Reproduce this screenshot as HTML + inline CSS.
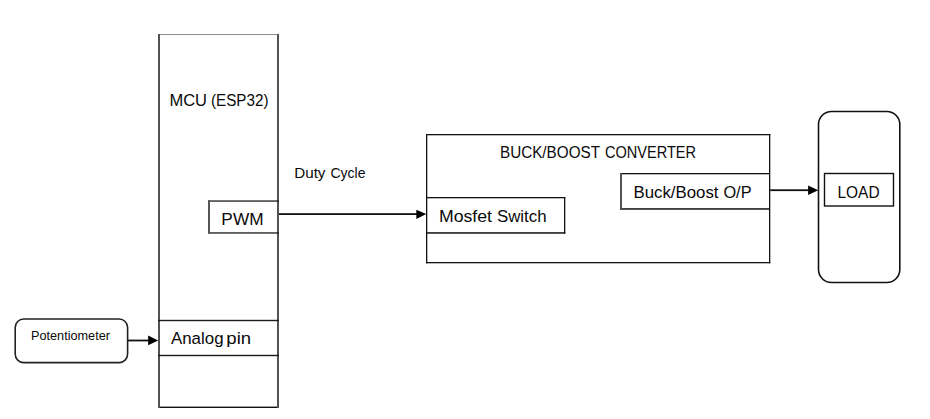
<!DOCTYPE html>
<html><head><meta charset="utf-8">
<style>
html,body{margin:0;padding:0;background:#fff;}
body{width:930px;height:419px;overflow:hidden;}
svg{display:block;}
text{font-family:"Liberation Sans",sans-serif;fill:#0a0a0a;}
</style></head>
<body>
<svg width="930" height="419" viewBox="0 0 930 419">
<g stroke="none">
  <!-- MCU -->
  <rect x="158" y="34" width="121" height="1" fill="#8e8e8e"/>
  <rect x="158" y="406.6" width="121" height="1.4" fill="#111"/>
  <rect x="158" y="34" width="2" height="374" fill="#525252"/>
  <rect x="277" y="34" width="2" height="374" fill="#525252"/>
  <!-- PWM box -->
  <rect x="208" y="200.4" width="71" height="1.3" fill="#1a1a1a"/>
  <rect x="208" y="232.3" width="71" height="1.3" fill="#1a1a1a"/>
  <rect x="208" y="200.4" width="2" height="33.2" fill="#555"/>
  <!-- analog -->
  <rect x="158" y="319.8" width="121" height="1.4" fill="#1a1a1a"/>
  <rect x="158" y="354.8" width="121" height="1.4" fill="#1a1a1a"/>
  <!-- converter -->
  <rect x="426" y="134" width="344.3" height="1.3" fill="#111"/>
  <rect x="426" y="262" width="344.3" height="1.3" fill="#111"/>
  <rect x="426" y="134" width="1.3" height="129.3" fill="#111"/>
  <rect x="769" y="134" width="1.3" height="129.3" fill="#111"/>
  <!-- mosfet -->
  <rect x="426" y="197" width="139.3" height="1.3" fill="#111"/>
  <rect x="426" y="232.2" width="139.3" height="1.5" fill="#111"/>
  <rect x="564" y="197" width="1.3" height="36.7" fill="#111"/>
  <!-- O/P -->
  <rect x="620" y="173" width="150" height="1.3" fill="#111"/>
  <rect x="620" y="208.2" width="150" height="1.5" fill="#111"/>
  <rect x="620" y="173" width="2" height="36.7" fill="#525252"/>
  <!-- arrows -->
  <rect x="279" y="213.2" width="138" height="1.8" fill="#111"/>
  <rect x="770.2" y="189.3" width="39" height="1.8" fill="#111"/>
  <rect x="127.6" y="339.6" width="21.5" height="1.8" fill="#111"/>
  <path d="M416.3,209.7 L426.3,214.1 L416.3,218.9 Z" fill="#000"/>
  <path d="M808.1,185.5 L818.2,190.2 L808.1,195 Z" fill="#000"/>
  <path d="M148.1,335.5 L158.1,340.5 L148.1,345.2 Z" fill="#000"/>
</g>
<g fill="none">
  <rect x="818.5" y="111.5" width="81.3" height="171" rx="13" ry="13" stroke="#111" stroke-width="1.6"/>
  <rect x="824.5" y="173.5" width="69" height="32.5" stroke="#111" stroke-width="1.4"/>
  <rect x="15.2" y="319" width="112.4" height="43.6" rx="8.5" ry="8.5" stroke="#222" stroke-width="1.6"/>
</g>
<g class="t">
  <text x="169.39" y="106" font-size="16.7" textLength="37.65" lengthAdjust="spacingAndGlyphs">MCU</text>
  <text x="210.95" y="106" font-size="16.7" textLength="57.6" lengthAdjust="spacingAndGlyphs">(ESP32)</text>
  <text x="294.19" y="178" font-size="14.5" textLength="31.31" lengthAdjust="spacingAndGlyphs">Duty</text>
  <text x="330.47" y="178" font-size="14.5" textLength="35.04" lengthAdjust="spacingAndGlyphs">Cycle</text>
  <text x="221.39" y="224.8" font-size="16.7" textLength="42.18" lengthAdjust="spacingAndGlyphs">PWM</text>
  <text x="499.99" y="157.8" font-size="16.7" textLength="100.01" lengthAdjust="spacingAndGlyphs">BUCK/BOOST</text>
  <text x="604.99" y="157.8" font-size="16.7" textLength="91.03" lengthAdjust="spacingAndGlyphs">CONVERTER</text>
  <text x="438.94" y="221.7" font-size="16.7" textLength="53.07" lengthAdjust="spacingAndGlyphs">Mosfet</text>
  <text x="496.95" y="221.7" font-size="16.7" textLength="49.62" lengthAdjust="spacingAndGlyphs">Switch</text>
  <text x="633.45" y="198" font-size="16.7" textLength="85.06" lengthAdjust="spacingAndGlyphs">Buck/Boost</text>
  <text x="723.41" y="198" font-size="16.7" textLength="28.14" lengthAdjust="spacingAndGlyphs">O/P</text>
  <text x="837.43" y="197.8" font-size="16.7" textLength="42.14" lengthAdjust="spacingAndGlyphs">LOAD</text>
  <text x="30.98" y="340" font-size="12.5" textLength="79.02" lengthAdjust="spacingAndGlyphs">Potentiometer</text>
  <text x="170.98" y="344" font-size="16.7" textLength="52.55" lengthAdjust="spacingAndGlyphs">Analog</text>
  <text x="226.33" y="344" font-size="16.7" textLength="24.77" lengthAdjust="spacingAndGlyphs">pin</text>
</g>
</svg>
</body></html>
